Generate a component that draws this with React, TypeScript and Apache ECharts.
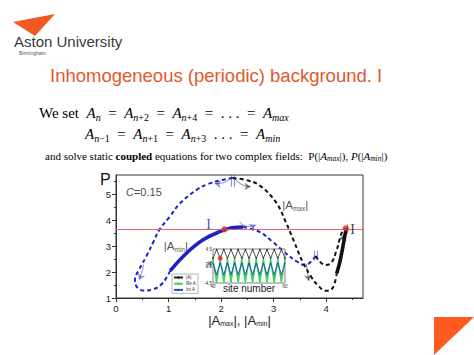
import React, { useEffect, useRef } from 'react';
import * as echarts from 'echarts';

// ---------- main plot data ----------
const xTicks = [0, 1, 2, 3, 4];
const xMinorTicks = [0.5, 1.5, 2.5, 3.5, 4.5];
const yTicks = [1, 2, 3, 4, 5];
const yMinorTicks = [1.5, 2.5, 3.5, 4.5, 5.5];

// |A_min| branch (blue)
const blueDashedLeft: number[][] = [
  [2.22, 5.63], [2.0, 5.55], [1.75, 5.4], [1.55, 5.2], [1.21, 4.64], [1.02, 4.13],
  [0.83, 3.65], [0.72, 3.2], [0.58, 2.62], [0.44, 2.1], [0.36, 1.7], [0.4, 1.42],
  [0.52, 1.29], [0.7, 1.33], [0.85, 1.5], [0.95, 1.75], [1.03, 2.05],
];
const blueSolid: number[][] = [
  [1.03, 2.05], [1.34, 2.73], [1.65, 3.24], [1.97, 3.56], [2.2, 3.71], [2.42, 3.74],
];
const blueDashedRight: number[][] = [
  [2.42, 3.74], [2.73, 3.55], [2.98, 3.17], [3.23, 2.73], [3.45, 2.4], [3.58, 2.28],
  [3.67, 2.33], [3.8, 2.62],
];
// |A_max| branch (black)
const blackDashedMain: number[][] = [
  [2.22, 5.63], [2.47, 5.56], [2.73, 5.35], [3.04, 4.71], [3.23, 3.94], [3.39, 3.17],
  [3.55, 2.4], [3.71, 1.83], [3.86, 1.45], [3.99, 1.28], [4.12, 1.38], [4.2, 1.95],
];
const blackSolid: number[][] = [
  [4.2, 1.95], [4.26, 2.4], [4.31, 2.9], [4.35, 3.35], [4.38, 3.7],
];
const blackDashedSecond: number[][] = [
  [3.8, 2.62], [3.88, 2.4], [3.99, 2.27], [4.1, 2.37], [4.19, 2.8], [4.26, 3.3], [4.32, 3.68],
];
const pLevel = 3.65;
const solutionPoints: number[][] = [[2.06, 3.65], [4.37, 3.69]];

// arrows: start, end, curveness, colour key
const arrowStarts: number[][] = [[2.2, 5.66], [2.24, 5.66], [2.35, 3.93], [0.53, 2.3], [3.62, 2.32], [4.4, 3.85], [1.72, 2.2]];
const arrowEnds: number[][] = [[1.88, 5.42], [2.56, 5.3], [2.66, 3.82], [0.44, 1.7], [3.67, 1.66], [4.26, 3.28], [1.83, 2.43]];
const arrowCurves = [0.25, -0.25, -0.35, 0.05, 0, 0.5, 0];
const arrowColours = ['blue', 'black', 'blue', 'blue', 'black', 'black', 'black'];

// double bars
const barStarts: number[][] = [[2.2, 5.3], [2.245, 5.3], [3.78, 2.45], [3.83, 2.45]];
const barEnds: number[][] = [[2.2, 5.75], [2.245, 5.75], [3.78, 2.82], [3.83, 2.82]];

// ---------- inset data ----------
const siteNumbers = [40, 41, 42, 43, 44, 45, 46, 47, 48, 49, 50, 51, 52, 53, 54, 55, 56, 57, 58, 59, 60];
const absA = [2.06, 4.37, 2.06, 4.37, 2.06, 4.37, 2.06, 4.37, 2.06, 4.37, 2.06, 4.37, 2.06, 4.37, 2.06, 4.37, 2.06, 4.37, 2.06, 4.37, 2.06];
const reA = [1.7, -4.2, 1.7, -4.2, 1.7, -4.2, 1.7, -4.2, 1.7, -4.2, 1.7, -4.2, 1.7, -4.2, 1.7, -4.2, 1.7, -4.2, 1.7, -4.2, 1.7];
const imA = [0.8, -2.3, 0.8, -2.3, 0.8, -2.3, 0.8, -2.3, 0.8, -2.3, 0.8, -2.3, 0.8, -2.3, 0.8, -2.3, 0.8, -2.3, 0.8, -2.3, 0.8];
const insetYTicks = [-4.5, 0, 4.5];
const insetXTicks = [40, 60];

const BLUE = '#1f22c0';
const BLACK = '#111111';
const RED = '#e0282a';
const ORANGE = '#f05a22';
const SANS = 'Liberation Sans';
const SERIF = 'Liberation Serif';
const TXT = '#1a1a1a';

const mathRich = {
  r: { fontFamily: SERIF, fontSize: 15, lineHeight: 19, color: TXT },
  i: { fontFamily: SERIF, fontSize: 15, lineHeight: 19, fontStyle: 'italic', color: TXT },
  s: { fontFamily: SERIF, fontSize: 10, lineHeight: 10, fontStyle: 'italic', verticalAlign: 'bottom', color: TXT },
  sr: { fontFamily: SERIF, fontSize: 10, lineHeight: 10, verticalAlign: 'bottom', color: TXT },
  t: { fontFamily: SERIF, fontSize: 11, lineHeight: 14, color: TXT },
  tb: { fontFamily: SERIF, fontSize: 11, lineHeight: 14, fontWeight: 'bold', color: TXT },
  ti: { fontFamily: SERIF, fontSize: 11, lineHeight: 14, fontStyle: 'italic', color: TXT },
  ts: { fontFamily: SERIF, fontSize: 7.5, lineHeight: 7.5, fontStyle: 'italic', verticalAlign: 'bottom', color: TXT },
};

const annotRich = {
  a: { fontFamily: SANS, fontSize: 11.5, lineHeight: 13, color: '#222' },
  s: { fontFamily: SANS, fontSize: 6.5, lineHeight: 6.5, verticalAlign: 'bottom', color: '#222' },
  ci: { fontFamily: SANS, fontSize: 11, fontStyle: 'italic', color: '#111' },
  c: { fontFamily: SANS, fontSize: 11, color: '#111' },
  bI: { fontFamily: SERIF, fontSize: 14, color: BLUE },
  kI: { fontFamily: SERIF, fontSize: 14, color: BLACK },
};

const annotations = [
  { value: [0.19, 5.08], text: '{ci|C}{c|=0.15}', pos: 'right' },
  { value: [3.41, 4.58], text: '{a||A}{s|max}{a||}', pos: 'inside' },
  { value: [1.14, 3.0], text: '{a||A}{s|min}{a||}', pos: 'inside' },
  { value: [1.76, 3.85], text: '{bI|I}', pos: 'inside' },
  { value: [4.5, 3.66], text: '{kI|I}', pos: 'inside' },
];

const E = '\u2002=\u2002';

function pairs(xs: number[], ys: number[]) {
  return xs.map((x, k) => [x, ys[k]]);
}

function dashed(name: string, data: number[][], color: string) {
  return {
    name, type: 'line', xAxisIndex: 0, yAxisIndex: 0, data, smooth: 0.4,
    showSymbol: false, symbol: 'none', z: 3,
    lineStyle: { color, width: 2, type: [4, 3] },
  };
}
function solid(name: string, data: number[][], color: string) {
  return {
    name, type: 'line', xAxisIndex: 0, yAxisIndex: 0, data, smooth: 0.4,
    showSymbol: false, symbol: 'none', z: 4,
    lineStyle: { color, width: 3.6 },
  };
}

export default function App() {
  const ref = useRef<HTMLDivElement>(null);
  useEffect(() => {
    document.body.style.margin = '0';
    const chart = echarts.init(ref.current!, null, { renderer: 'svg' });
    const option: any = {
      animation: false,
      backgroundColor: '#ffffff',
      grid: [
        { left: 116, top: 175, width: 247, height: 123, show: true, borderColor: '#333', borderWidth: 1, backgroundColor: 'transparent' },
        { left: 213, top: 249, width: 72, height: 34, show: true, borderColor: '#666', borderWidth: 0.8, backgroundColor: '#ffffff', z: 5 },
      ],
      xAxis: [
        {
          type: 'value', gridIndex: 0, min: 0, max: 4.7, position: 'bottom',
          axisLine: { show: true, lineStyle: { color: '#333', width: 1 } },
          axisTick: { show: true, customValues: xTicks, length: 4, lineStyle: { color: '#333' } },
          axisLabel: { customValues: xTicks, fontFamily: SANS, fontSize: 9.5, color: '#222', margin: 5 },
          splitLine: { show: false },
          name: '{a||A}{s|max}{a||, |A}{s|min}{a||}',
          nameLocation: 'middle', nameGap: 14,
          nameTextStyle: {
            rich: {
              a: { fontFamily: SANS, fontSize: 13, lineHeight: 14, color: '#222' },
              s: { fontFamily: SANS, fontSize: 7, lineHeight: 7, verticalAlign: 'bottom', color: '#222' },
            },
          },
        },
        {
          type: 'value', gridIndex: 0, min: 0, max: 4.7, position: 'bottom',
          axisLine: { show: false },
          axisTick: { show: true, customValues: xMinorTicks, length: 2, lineStyle: { color: '#333' } },
          axisLabel: { show: false }, splitLine: { show: false },
        },
        {
          type: 'value', gridIndex: 1, min: 40, max: 60, interval: 20,
          axisLine: { show: false },
          axisTick: { show: false },
          axisLabel: { customValues: insetXTicks, fontFamily: SANS, fontSize: 4.5, color: '#333', margin: 1 },
          splitLine: { show: false },
          name: 'site number', nameLocation: 'middle', nameGap: 0, nameMoveOverlap: false,
          nameTextStyle: { fontFamily: SANS, fontSize: 10, lineHeight: 10, color: '#222', verticalAlign: 'top' },
        },
      ],
      yAxis: [
        {
          type: 'value', gridIndex: 0, min: 1, max: 5.75, position: 'left',
          axisLine: { show: true, lineStyle: { color: '#333', width: 1 } },
          axisTick: { show: true, customValues: yTicks, length: 4, lineStyle: { color: '#333' } },
          axisLabel: { customValues: yTicks, fontFamily: SANS, fontSize: 9.5, color: '#222', margin: 5 },
          splitLine: { show: false },
        },
        {
          type: 'value', gridIndex: 0, min: 1, max: 5.75, position: 'left',
          axisLine: { show: false },
          axisTick: { show: true, customValues: yMinorTicks, length: 2, lineStyle: { color: '#333' } },
          axisLabel: { show: false }, splitLine: { show: false },
        },
        {
          type: 'value', gridIndex: 1, min: -4.5, max: 4.5, interval: 4.5,
          axisLine: { show: false }, axisTick: { show: false },
          axisLabel: { customValues: insetYTicks, fontFamily: SANS, fontSize: 4.5, color: '#333', margin: 1, formatter: (v: number) => v.toFixed(1) },
          splitLine: { show: false },
        },
      ],
      legend: {
        data: ['|A|', 'Re A', 'Im A'],
        orient: 'vertical', left: 172, top: 274,
        itemWidth: 9, itemHeight: 3, itemGap: 1.2,
        padding: [1, 2, 1, 1],
        borderColor: '#888', borderWidth: 0.6, backgroundColor: '#fff',
        textStyle: { fontFamily: SANS, fontSize: 4.5, color: '#333', padding: [0, 0, 0, -2] },
        selectedMode: false,
        z: 6,
      },
      series: [
        dashed('minLeft', blueDashedLeft, BLUE),
        solid('minSolid', blueSolid, BLUE),
        dashed('minRight', blueDashedRight, BLUE),
        dashed('maxMain', blackDashedMain, BLACK),
        dashed('maxSecond', blackDashedSecond, BLACK),
        solid('maxSolid', blackSolid, BLACK),
        {
          name: 'solutions', type: 'scatter', xAxisIndex: 0, yAxisIndex: 0,
          data: solutionPoints, symbolSize: 6, itemStyle: { color: RED }, z: 6,
          markLine: {
            silent: true, symbol: ['none', 'none'], label: { show: false },
            lineStyle: { color: '#e46a6a', width: 1, type: 'solid' },
            data: [{ yAxis: pLevel }],
          },
        },
        {
          name: 'arrows', type: 'lines', coordinateSystem: 'cartesian2d', xAxisIndex: 0, yAxisIndex: 0,
          symbol: ['none', 'arrow'], symbolSize: 6, z: 7,
          data: arrowStarts.map((s, k) => ({
            coords: [s, arrowEnds[k]],
            lineStyle: { color: arrowColours[k] === 'blue' ? BLUE : BLACK, width: 1, curveness: arrowCurves[k] },
          })),
        },
        {
          name: 'bars', type: 'lines', coordinateSystem: 'cartesian2d', xAxisIndex: 0, yAxisIndex: 0,
          symbol: ['none', 'none'], z: 7,
          data: barStarts.map((s, k) => ({ coords: [s, barEnds[k]] })),
          lineStyle: { color: BLUE, width: 1.2, curveness: 0 },
        },
        {
          name: 'annotations', type: 'scatter', xAxisIndex: 0, yAxisIndex: 0,
          symbolSize: 0.01, itemStyle: { color: 'rgba(0,0,0,0)' }, z: 8,
          label: { show: true, rich: annotRich, distance: 0 },
          data: annotations.map((a) => ({ value: a.value, label: { formatter: a.text, position: a.pos } })),
        },
        {
          name: '|A|', type: 'line', xAxisIndex: 2, yAxisIndex: 2, data: pairs(siteNumbers, absA),
          symbol: 'circle', symbolSize: 1.5, z: 10,
          lineStyle: { color: '#222', width: 0.8 }, itemStyle: { color: '#222' },
        },
        {
          name: 'Re A', type: 'line', xAxisIndex: 2, yAxisIndex: 2, data: pairs(siteNumbers, reA),
          symbol: 'circle', symbolSize: 1.5, z: 10,
          lineStyle: { color: '#3fd45e', width: 1.6 }, itemStyle: { color: '#3fd45e' },
        },
        {
          name: 'Im A', type: 'line', xAxisIndex: 2, yAxisIndex: 2, data: pairs(siteNumbers, imA),
          symbol: 'triangle', symbolSize: 1.5, z: 11,
          lineStyle: { color: '#2a4fc0', width: 1 }, itemStyle: { color: '#2a4fc0' },
        },
        {
          name: 'insetMark', type: 'scatter', xAxisIndex: 2, yAxisIndex: 2,
          data: [[siteNumbers[2], absA[2]]], symbolSize: 5, itemStyle: { color: RED }, z: 12,
        },
      ],
      graphic: [
        { type: 'polygon', shape: { points: [[13, 22], [55, 14], [35, 36]] }, style: { fill: ORANGE } },
        { type: 'text', x: 14, y: 41.5, style: { text: 'Aston University', font: `15px "${SANS}"`, fill: '#3a3a3a', verticalAlign: 'middle' } },
        { type: 'text', x: 19, y: 52.5, style: { text: 'Birmingham', font: `5px "${SANS}"`, fill: '#555', verticalAlign: 'middle' } },
        { type: 'text', x: 50, y: 75, style: { text: 'Inhomogeneous (periodic) background. I', font: `18.5px "${SANS}"`, fill: '#e2582c', verticalAlign: 'middle' } },
        {
          type: 'text', x: 39, y: 112.5,
          style: {
            text: `{r|We set  }{i|A}{s|n}{r|${E}}{i|A}{s|n}{sr|+2}{r|${E}}{i|A}{s|n}{sr|+4}{r|${E}. . .${E}}{i|A}{s|max}`,
            rich: mathRich, verticalAlign: 'middle',
          },
        },
        {
          type: 'text', x: 85, y: 134,
          style: {
            text: `{i|A}{s|n}{sr|−1}{r|${E}}{i|A}{s|n}{sr|+1}{r|${E}}{i|A}{s|n}{sr|+3}{r|\u2002. . .${E}}{i|A}{s|min}`,
            rich: mathRich, verticalAlign: 'middle',
          },
        },
        {
          type: 'text', x: 45, y: 155.5,
          style: {
            text: '{t|and solve static }{tb|coupled}{t| equations for two complex fields:  P(|}{ti|A}{ts|max}{t||), }{ti|P}{t|(|}{ti|A}{ts|min}{t||)}',
            rich: mathRich, verticalAlign: 'middle',
          },
        },
        { type: 'text', x: 100, y: 179, style: { text: 'P', font: `16px "${SANS}"`, fill: '#111', verticalAlign: 'middle' } },
        { type: 'polygon', shape: { points: [[434, 317], [474, 317], [434, 355]] }, style: { fill: '#ff5a1f' } },
      ],
    };
    chart.setOption(option);
    return () => chart.dispose();
  }, []);
  return <div ref={ref} style={{ width: 474, height: 355 }} />;
}
